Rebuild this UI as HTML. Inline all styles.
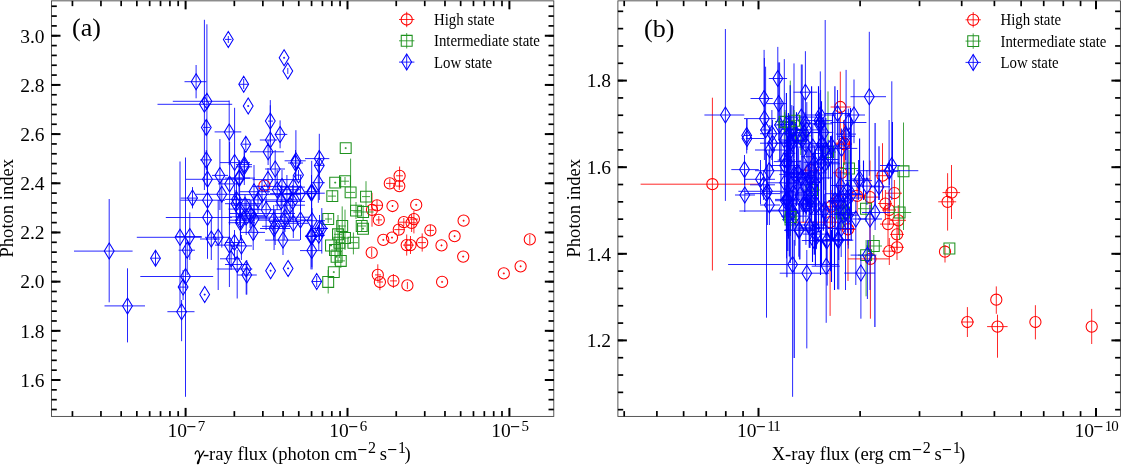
<!DOCTYPE html><html><head><meta charset="utf-8"><style>html,body{margin:0;padding:0;background:#fff;width:1123px;height:465px;overflow:hidden}svg{display:block;will-change:transform}</style></head><body><svg width="1123" height="465" viewBox="0 0 1123 465" font-family="Liberation Serif, serif" fill="#000">
<rect width="1123" height="465" fill="#fff"/>
<g>
<path d="M396.0 175.8H403.0M399.6 166.5V187.6M386.0 183.4H394.0M389.8 178.8V187.6M396.0 186.1H403.0M399.3 182.0V190.0M372.5 205.3H382.3M377.0 200.0V211.0M368.0 209.9H376.0M372.0 192.8V226.7M391.5 206.0H393.5M392.5 205.0V207.0M415.2 204.9H417.2M416.2 203.9V205.9M376.0 219.9H382.0M378.8 216.0V224.0M399.0 222.2H408.0M403.8 218.0V226.0M410.0 219.1H418.0M413.9 210.8V233.4M408.0 222.8H416.0M411.6 214.0V232.0M394.3 229.6H404.1M398.8 224.0V235.0M427.0 230.4H434.0M430.4 225.0V235.6M391.0 237.6H393.0M392.0 236.6V238.6M382.3 239.9H384.3M383.3 238.9V240.9M403.0 245.1H410.0M406.7 234.5V255.6M407.0 245.1H414.0M410.5 236.0V254.0M418.0 242.6H426.0M422.2 233.4V251.6M440.5 245.4H442.5M441.5 244.4V246.4M462.6 220.7H464.6M463.6 219.7V221.7M453.6 236.2H455.6M454.6 235.2V237.2M462.2 256.6H464.2M463.2 255.6V257.6M441.1 281.9H443.1M442.1 280.9V282.9M529.8 235.0V244.0M519.6 266.3H521.6M520.6 265.3V267.3M502.8 273.4H504.8M503.8 272.4V274.4M371.7 248.0V257.0M375.0 274.9H381.0M377.8 264.3V280.0M377.0 282.0H383.0M379.9 276.0V290.2M390.0 280.9H397.0M393.4 274.0V288.0M407.4 282.0V289.0M263.4 185.7H265.4M264.4 184.7V186.7" stroke="#ff0000" stroke-width="0.85" fill="none"/>
<path d="M394.00 175.80a5.6 5.6 0 1 0 11.2 0a5.6 5.6 0 1 0 -11.2 0ZM384.20 183.40a5.6 5.6 0 1 0 11.2 0a5.6 5.6 0 1 0 -11.2 0ZM393.70 186.10a5.6 5.6 0 1 0 11.2 0a5.6 5.6 0 1 0 -11.2 0ZM371.40 205.30a5.6 5.6 0 1 0 11.2 0a5.6 5.6 0 1 0 -11.2 0ZM366.40 209.90a5.6 5.6 0 1 0 11.2 0a5.6 5.6 0 1 0 -11.2 0ZM386.90 206.00a5.6 5.6 0 1 0 11.2 0a5.6 5.6 0 1 0 -11.2 0ZM410.60 204.90a5.6 5.6 0 1 0 11.2 0a5.6 5.6 0 1 0 -11.2 0ZM373.20 219.90a5.6 5.6 0 1 0 11.2 0a5.6 5.6 0 1 0 -11.2 0ZM398.20 222.20a5.6 5.6 0 1 0 11.2 0a5.6 5.6 0 1 0 -11.2 0ZM408.30 219.10a5.6 5.6 0 1 0 11.2 0a5.6 5.6 0 1 0 -11.2 0ZM406.00 222.80a5.6 5.6 0 1 0 11.2 0a5.6 5.6 0 1 0 -11.2 0ZM393.20 229.60a5.6 5.6 0 1 0 11.2 0a5.6 5.6 0 1 0 -11.2 0ZM424.80 230.40a5.6 5.6 0 1 0 11.2 0a5.6 5.6 0 1 0 -11.2 0ZM386.40 237.60a5.6 5.6 0 1 0 11.2 0a5.6 5.6 0 1 0 -11.2 0ZM377.70 239.90a5.6 5.6 0 1 0 11.2 0a5.6 5.6 0 1 0 -11.2 0ZM401.10 245.10a5.6 5.6 0 1 0 11.2 0a5.6 5.6 0 1 0 -11.2 0ZM404.90 245.10a5.6 5.6 0 1 0 11.2 0a5.6 5.6 0 1 0 -11.2 0ZM416.60 242.60a5.6 5.6 0 1 0 11.2 0a5.6 5.6 0 1 0 -11.2 0ZM435.90 245.40a5.6 5.6 0 1 0 11.2 0a5.6 5.6 0 1 0 -11.2 0ZM458.00 220.70a5.6 5.6 0 1 0 11.2 0a5.6 5.6 0 1 0 -11.2 0ZM449.00 236.20a5.6 5.6 0 1 0 11.2 0a5.6 5.6 0 1 0 -11.2 0ZM457.60 256.60a5.6 5.6 0 1 0 11.2 0a5.6 5.6 0 1 0 -11.2 0ZM436.50 281.90a5.6 5.6 0 1 0 11.2 0a5.6 5.6 0 1 0 -11.2 0ZM524.20 239.40a5.6 5.6 0 1 0 11.2 0a5.6 5.6 0 1 0 -11.2 0ZM515.00 266.30a5.6 5.6 0 1 0 11.2 0a5.6 5.6 0 1 0 -11.2 0ZM498.20 273.40a5.6 5.6 0 1 0 11.2 0a5.6 5.6 0 1 0 -11.2 0ZM366.10 252.60a5.6 5.6 0 1 0 11.2 0a5.6 5.6 0 1 0 -11.2 0ZM372.20 274.90a5.6 5.6 0 1 0 11.2 0a5.6 5.6 0 1 0 -11.2 0ZM374.30 282.00a5.6 5.6 0 1 0 11.2 0a5.6 5.6 0 1 0 -11.2 0ZM387.80 280.90a5.6 5.6 0 1 0 11.2 0a5.6 5.6 0 1 0 -11.2 0ZM401.80 285.40a5.6 5.6 0 1 0 11.2 0a5.6 5.6 0 1 0 -11.2 0ZM258.80 185.70a5.6 5.6 0 1 0 11.2 0a5.6 5.6 0 1 0 -11.2 0Z" stroke="#ff0000" stroke-width="1.05" fill="none"/>
<path d="M344.7 148.1H346.7M345.7 147.1V149.1M334.2 182.6H336.2M335.2 181.6V183.6M341.0 181.2H349.0M345.0 177.0V185.0M346.0 192.4H355.0M350.6 158.6V205.0M328.0 196.1H336.0M332.3 190.0V202.0M362.0 196.6H370.0M366.0 181.2V206.4M350.0 210.6H362.0M356.0 202.0V219.0M353.4 212.0H373.7M363.1 205.0V220.0M358.0 226.0H366.0M361.7 220.0V232.0M362.0 228.7H364.0M363.0 227.7V229.7M325.0 219.0H332.0M328.2 214.0V223.0M338.0 226.0H346.0M342.2 206.4V251.0M334.0 234.3H342.0M338.0 215.0V262.0M330.0 245.5H332.0M331.0 244.5V246.5M335.0 242.7H344.0M339.4 225.0V258.0M349.0 242.7H358.0M353.4 232.5V254.4M335.6 256.7H337.6M336.6 255.7V257.7M336.0 260.9H345.0M340.8 250.0V268.0M332.8 272.1H334.8M333.8 271.1V273.1M328.2 270.0V293.5M341.0 238.0H349.0M345.0 209.6V250.0M331.0 250.0H339.0M335.0 230.0V265.0" stroke="#1f921f" stroke-width="0.85" fill="none"/>
<path d="M340.25 142.65h10.9v10.9h-10.9ZM329.75 177.15h10.9v10.9h-10.9ZM339.55 175.75h10.9v10.9h-10.9ZM345.15 186.95h10.9v10.9h-10.9ZM326.85 190.65h10.9v10.9h-10.9ZM360.55 191.15h10.9v10.9h-10.9ZM350.55 205.15h10.9v10.9h-10.9ZM357.65 206.55h10.9v10.9h-10.9ZM356.25 220.55h10.9v10.9h-10.9ZM357.55 223.25h10.9v10.9h-10.9ZM322.75 213.55h10.9v10.9h-10.9ZM336.75 220.55h10.9v10.9h-10.9ZM332.55 228.85h10.9v10.9h-10.9ZM325.55 240.05h10.9v10.9h-10.9ZM333.95 237.25h10.9v10.9h-10.9ZM347.95 237.25h10.9v10.9h-10.9ZM331.15 251.25h10.9v10.9h-10.9ZM335.35 255.45h10.9v10.9h-10.9ZM328.35 266.65h10.9v10.9h-10.9ZM322.75 276.45h10.9v10.9h-10.9ZM339.55 232.55h10.9v10.9h-10.9ZM329.55 244.55h10.9v10.9h-10.9Z" stroke="#1f921f" stroke-width="1.05" fill="none"/>
<path d="M74.0 251.1H132.6M109.2 199.0V302.3M104.5 305.9H145.0M127.5 268.3V342.4M151.0 258.2H160.0M155.5 251.0V265.0M225.0 39.4H231.5M228.3 36.0V43.0M283.1 57.8H285.1M284.1 56.8V58.8M287.8 68.0V74.0M184.5 81.7H206.4M196.1 65.0V98.3M239.0 84.3H248.5M243.7 79.0V89.0M247.2 106.0H249.2M248.2 105.0V107.0M157.5 104.3H232.2M204.4 19.8V190.0M172.8 101.3H229.2M206.9 24.3V185.0M203.0 127.4H210.0M206.3 120.0V135.0M214.6 131.9H241.3M229.2 100.5V165.0M242.0 144.2H250.0M245.8 138.0V150.0M268.0 121.1H273.0M270.3 100.1V142.0M274.8 134.4H287.3M280.1 120.4V148.3M259.8 140.0H277.1M270.3 105.3V170.0M250.0 151.8H283.9M268.1 140.0V165.0M284.6 160.8H305.7M295.9 130.2V182.6M305.0 158.6H329.3M319.3 133.8V175.0M314.0 165.4H324.0M319.3 150.0V200.0M295.0 175.1H302.0M298.5 170.0V180.0M311.0 182.7H324.8M318.3 160.9V202.8M200.0 159.9H212.0M206.3 150.0V170.0M212.0 175.4H228.0M219.9 139.0V210.0M220.0 162.6H250.0M234.6 107.8V200.0M236.0 164.6H252.0M244.3 150.0V180.0M225.0 178.1H255.0M239.6 160.0V200.0M218.0 183.9H240.0M229.6 142.0V225.0M186.0 179.3H245.0M207.5 165.0V195.0M180.7 198.1H197.7M192.5 187.1V208.4M180.3 200.2H225.0M207.5 185.0V215.0M195.8 194.3H229.4M221.8 180.0V247.6M225.0 199.4H250.0M236.5 180.0V225.0M240.0 191.7H270.0M254.0 165.0V215.0M260.0 189.7H300.0M277.2 170.0V210.0M270.0 193.6H320.0M286.9 175.0V215.0M280.0 201.4H305.0M292.7 185.0V220.0M285.0 193.6H315.0M300.5 175.0V210.0M305.0 191.7H320.0M311.7 160.8V230.0M165.8 217.5H232.0M207.5 200.0V258.8M228.5 209.1H260.0M239.6 195.0V225.0M230.0 216.9H265.0M246.2 200.0V235.0M240.0 218.8H270.0M254.0 200.0V240.0M228.5 222.7H255.0M240.4 210.0V240.0M260.0 228.5H290.0M274.1 210.0V250.0M270.0 221.5H300.0M284.2 205.0V240.0M290.0 220.0H312.0M300.5 205.0V240.0M300.0 220.7H325.0M312.1 208.1V235.0M310.0 228.5H328.0M319.5 215.0V240.0M305.0 236.2H320.0M312.1 225.0V269.4M300.0 250.6H322.0M311.8 236.0V267.2M265.0 240.1H300.0M283.0 225.0V255.0M240.0 232.4H265.0M253.2 215.0V250.0M136.8 237.3H201.8M180.0 161.5V308.0M175.0 236.5H201.6M189.8 212.4V260.0M178.6 250.2H195.0M187.2 240.0V275.0M200.0 239.0H220.0M211.3 220.0V260.0M205.0 237.3H230.0M218.2 200.0V290.0M215.0 245.1H240.0M229.4 203.8V287.0M225.0 242.5H245.0M234.5 230.0V260.0M230.0 245.9H252.0M241.4 235.0V260.0M220.0 258.8H240.0M231.1 245.0V270.0M225.0 264.5H248.0M237.2 250.0V298.5M216.8 269.0H252.3M246.2 263.6V294.6M237.2 275.0H256.8M246.8 260.0V294.6M269.6 270.7H271.6M270.6 269.7V271.7M287.1 268.4H289.1M288.1 267.4V269.4M312.0 281.5H322.0M316.7 276.0V287.0M140.3 276.5H213.2M185.5 157.5V396.8M178.0 287.1H188.0M183.1 270.0V300.0M167.4 311.7H194.5M181.6 300.0V341.2M203.7 294.6H205.7M204.7 293.6V295.6M290.0 193.2H324.8M311.5 175.0V215.0M315.0 228.4H328.0M321.8 208.1V253.6M312.0 235.2H325.0M318.8 225.0V250.0M305.0 236.3H318.0M311.0 225.0V269.4M236.0 166.8H252.0M244.3 150.0V185.0M228.0 178.1H250.0M239.0 165.0V195.0M265.0 169.0H285.0M275.2 150.0V190.0M252.6 186.4H300.0M282.0 170.0V205.0M280.0 187.1H305.0M293.3 175.0V200.0M288.0 163.0H303.0M295.5 150.0V180.0M225.0 203.7H260.0M236.0 190.0V218.0M232.0 205.2H258.0M245.0 194.6V225.0M238.0 215.7H265.0M251.0 200.0V232.0M230.0 220.2H255.0M240.5 205.0V240.0M250.0 209.7H282.0M266.1 196.9V230.0M258.0 220.2H290.0M273.7 205.0V240.0M265.0 201.4H296.0M281.2 185.0V217.2M275.0 205.2H305.0M290.2 190.0V222.0M280.0 223.3H308.0M293.3 208.0V238.0M262.0 226.3H290.0M275.2 210.0V245.0M232.0 199.9H300.0M258.0 185.0V213.5M230.0 194.6H300.0M262.0 180.0V208.0M230.0 213.5H295.0M250.0 200.0V228.0M250.0 217.2H310.0M285.0 205.0V232.0M252.6 179.6H300.0M268.0 168.0V195.0" stroke="#0000ff" stroke-width="0.85" fill="none"/>
<path d="M109.20 243.10L114.10 251.10L109.20 259.10L104.30 251.10ZM127.50 297.90L132.40 305.90L127.50 313.90L122.60 305.90ZM155.50 250.20L160.40 258.20L155.50 266.20L150.60 258.20ZM228.30 31.40L233.20 39.40L228.30 47.40L223.40 39.40ZM284.10 49.80L289.00 57.80L284.10 65.80L279.20 57.80ZM287.80 63.10L292.70 71.10L287.80 79.10L282.90 71.10ZM196.10 73.70L201.00 81.70L196.10 89.70L191.20 81.70ZM243.70 76.30L248.60 84.30L243.70 92.30L238.80 84.30ZM248.20 98.00L253.10 106.00L248.20 114.00L243.30 106.00ZM204.40 96.30L209.30 104.30L204.40 112.30L199.50 104.30ZM206.90 93.30L211.80 101.30L206.90 109.30L202.00 101.30ZM206.30 119.40L211.20 127.40L206.30 135.40L201.40 127.40ZM229.20 123.90L234.10 131.90L229.20 139.90L224.30 131.90ZM245.80 136.20L250.70 144.20L245.80 152.20L240.90 144.20ZM270.30 113.10L275.20 121.10L270.30 129.10L265.40 121.10ZM280.10 126.40L285.00 134.40L280.10 142.40L275.20 134.40ZM270.30 132.00L275.20 140.00L270.30 148.00L265.40 140.00ZM268.10 143.80L273.00 151.80L268.10 159.80L263.20 151.80ZM295.90 152.80L300.80 160.80L295.90 168.80L291.00 160.80ZM319.30 150.60L324.20 158.60L319.30 166.60L314.40 158.60ZM319.30 157.40L324.20 165.40L319.30 173.40L314.40 165.40ZM298.50 167.10L303.40 175.10L298.50 183.10L293.60 175.10ZM318.30 174.70L323.20 182.70L318.30 190.70L313.40 182.70ZM206.30 151.90L211.20 159.90L206.30 167.90L201.40 159.90ZM219.90 167.40L224.80 175.40L219.90 183.40L215.00 175.40ZM234.60 154.60L239.50 162.60L234.60 170.60L229.70 162.60ZM244.30 156.60L249.20 164.60L244.30 172.60L239.40 164.60ZM239.60 170.10L244.50 178.10L239.60 186.10L234.70 178.10ZM229.60 175.90L234.50 183.90L229.60 191.90L224.70 183.90ZM207.50 171.30L212.40 179.30L207.50 187.30L202.60 179.30ZM192.50 190.10L197.40 198.10L192.50 206.10L187.60 198.10ZM207.50 192.20L212.40 200.20L207.50 208.20L202.60 200.20ZM221.80 186.30L226.70 194.30L221.80 202.30L216.90 194.30ZM236.50 191.40L241.40 199.40L236.50 207.40L231.60 199.40ZM254.00 183.70L258.90 191.70L254.00 199.70L249.10 191.70ZM277.20 181.70L282.10 189.70L277.20 197.70L272.30 189.70ZM286.90 185.60L291.80 193.60L286.90 201.60L282.00 193.60ZM292.70 193.40L297.60 201.40L292.70 209.40L287.80 201.40ZM300.50 185.60L305.40 193.60L300.50 201.60L295.60 193.60ZM311.70 183.70L316.60 191.70L311.70 199.70L306.80 191.70ZM207.50 209.50L212.40 217.50L207.50 225.50L202.60 217.50ZM239.60 201.10L244.50 209.10L239.60 217.10L234.70 209.10ZM246.20 208.90L251.10 216.90L246.20 224.90L241.30 216.90ZM254.00 210.80L258.90 218.80L254.00 226.80L249.10 218.80ZM240.40 214.70L245.30 222.70L240.40 230.70L235.50 222.70ZM274.10 220.50L279.00 228.50L274.10 236.50L269.20 228.50ZM284.20 213.50L289.10 221.50L284.20 229.50L279.30 221.50ZM300.50 212.00L305.40 220.00L300.50 228.00L295.60 220.00ZM312.10 212.70L317.00 220.70L312.10 228.70L307.20 220.70ZM319.50 220.50L324.40 228.50L319.50 236.50L314.60 228.50ZM312.10 228.20L317.00 236.20L312.10 244.20L307.20 236.20ZM311.80 242.60L316.70 250.60L311.80 258.60L306.90 250.60ZM283.00 232.10L287.90 240.10L283.00 248.10L278.10 240.10ZM253.20 224.40L258.10 232.40L253.20 240.40L248.30 232.40ZM180.00 229.30L184.90 237.30L180.00 245.30L175.10 237.30ZM189.80 228.50L194.70 236.50L189.80 244.50L184.90 236.50ZM187.20 242.20L192.10 250.20L187.20 258.20L182.30 250.20ZM211.30 231.00L216.20 239.00L211.30 247.00L206.40 239.00ZM218.20 229.30L223.10 237.30L218.20 245.30L213.30 237.30ZM229.40 237.10L234.30 245.10L229.40 253.10L224.50 245.10ZM234.50 234.50L239.40 242.50L234.50 250.50L229.60 242.50ZM241.40 237.90L246.30 245.90L241.40 253.90L236.50 245.90ZM231.10 250.80L236.00 258.80L231.10 266.80L226.20 258.80ZM237.20 256.50L242.10 264.50L237.20 272.50L232.30 264.50ZM246.20 261.00L251.10 269.00L246.20 277.00L241.30 269.00ZM246.80 267.00L251.70 275.00L246.80 283.00L241.90 275.00ZM270.60 262.70L275.50 270.70L270.60 278.70L265.70 270.70ZM288.10 260.40L293.00 268.40L288.10 276.40L283.20 268.40ZM316.70 273.50L321.60 281.50L316.70 289.50L311.80 281.50ZM185.50 268.50L190.40 276.50L185.50 284.50L180.60 276.50ZM183.10 279.10L188.00 287.10L183.10 295.10L178.20 287.10ZM181.60 303.70L186.50 311.70L181.60 319.70L176.70 311.70ZM204.70 286.60L209.60 294.60L204.70 302.60L199.80 294.60ZM311.50 185.20L316.40 193.20L311.50 201.20L306.60 193.20ZM321.80 220.40L326.70 228.40L321.80 236.40L316.90 228.40ZM318.80 227.20L323.70 235.20L318.80 243.20L313.90 235.20ZM311.00 228.30L315.90 236.30L311.00 244.30L306.10 236.30ZM244.30 158.80L249.20 166.80L244.30 174.80L239.40 166.80ZM239.00 170.10L243.90 178.10L239.00 186.10L234.10 178.10ZM275.20 161.00L280.10 169.00L275.20 177.00L270.30 169.00ZM282.00 178.40L286.90 186.40L282.00 194.40L277.10 186.40ZM293.30 179.10L298.20 187.10L293.30 195.10L288.40 187.10ZM295.50 155.00L300.40 163.00L295.50 171.00L290.60 163.00ZM236.00 195.70L240.90 203.70L236.00 211.70L231.10 203.70ZM245.00 197.20L249.90 205.20L245.00 213.20L240.10 205.20ZM251.00 207.70L255.90 215.70L251.00 223.70L246.10 215.70ZM240.50 212.20L245.40 220.20L240.50 228.20L235.60 220.20ZM266.10 201.70L271.00 209.70L266.10 217.70L261.20 209.70ZM273.70 212.20L278.60 220.20L273.70 228.20L268.80 220.20ZM281.20 193.40L286.10 201.40L281.20 209.40L276.30 201.40ZM290.20 197.20L295.10 205.20L290.20 213.20L285.30 205.20ZM293.30 215.30L298.20 223.30L293.30 231.30L288.40 223.30ZM275.20 218.30L280.10 226.30L275.20 234.30L270.30 226.30ZM258.00 191.90L262.90 199.90L258.00 207.90L253.10 199.90ZM262.00 186.60L266.90 194.60L262.00 202.60L257.10 194.60ZM250.00 205.50L254.90 213.50L250.00 221.50L245.10 213.50ZM285.00 209.20L289.90 217.20L285.00 225.20L280.10 217.20ZM268.00 171.60L272.90 179.60L268.00 187.60L263.10 179.60Z" stroke="#0000ff" stroke-width="1.05" fill="none"/>
</g>
<rect x="51.5" y="0.85" width="502.30" height="415.55" fill="none" stroke="#3a3a3a" stroke-width="0.85"/>
<line x1="51.5" y1="380.00" x2="60.5" y2="380.00" stroke="#000" stroke-width="2"/>
<line x1="553.8" y1="380.00" x2="544.8" y2="380.00" stroke="#000" stroke-width="2"/>
<line x1="51.5" y1="330.82" x2="60.5" y2="330.82" stroke="#000" stroke-width="2"/>
<line x1="553.8" y1="330.82" x2="544.8" y2="330.82" stroke="#000" stroke-width="2"/>
<line x1="51.5" y1="281.64" x2="60.5" y2="281.64" stroke="#000" stroke-width="2"/>
<line x1="553.8" y1="281.64" x2="544.8" y2="281.64" stroke="#000" stroke-width="2"/>
<line x1="51.5" y1="232.46" x2="60.5" y2="232.46" stroke="#000" stroke-width="2"/>
<line x1="553.8" y1="232.46" x2="544.8" y2="232.46" stroke="#000" stroke-width="2"/>
<line x1="51.5" y1="183.28" x2="60.5" y2="183.28" stroke="#000" stroke-width="2"/>
<line x1="553.8" y1="183.28" x2="544.8" y2="183.28" stroke="#000" stroke-width="2"/>
<line x1="51.5" y1="134.10" x2="60.5" y2="134.10" stroke="#000" stroke-width="2"/>
<line x1="553.8" y1="134.10" x2="544.8" y2="134.10" stroke="#000" stroke-width="2"/>
<line x1="51.5" y1="84.92" x2="60.5" y2="84.92" stroke="#000" stroke-width="2"/>
<line x1="553.8" y1="84.92" x2="544.8" y2="84.92" stroke="#000" stroke-width="2"/>
<line x1="51.5" y1="35.74" x2="60.5" y2="35.74" stroke="#000" stroke-width="2"/>
<line x1="553.8" y1="35.74" x2="544.8" y2="35.74" stroke="#000" stroke-width="2"/>
<line x1="51.5" y1="409.51" x2="56.8" y2="409.51" stroke="#000" stroke-width="1.7"/>
<line x1="553.8" y1="409.51" x2="548.5" y2="409.51" stroke="#000" stroke-width="1.7"/>
<line x1="51.5" y1="399.67" x2="56.8" y2="399.67" stroke="#000" stroke-width="1.7"/>
<line x1="553.8" y1="399.67" x2="548.5" y2="399.67" stroke="#000" stroke-width="1.7"/>
<line x1="51.5" y1="389.84" x2="56.8" y2="389.84" stroke="#000" stroke-width="1.7"/>
<line x1="553.8" y1="389.84" x2="548.5" y2="389.84" stroke="#000" stroke-width="1.7"/>
<line x1="51.5" y1="380.00" x2="56.8" y2="380.00" stroke="#000" stroke-width="1.7"/>
<line x1="553.8" y1="380.00" x2="548.5" y2="380.00" stroke="#000" stroke-width="1.7"/>
<line x1="51.5" y1="370.16" x2="56.8" y2="370.16" stroke="#000" stroke-width="1.7"/>
<line x1="553.8" y1="370.16" x2="548.5" y2="370.16" stroke="#000" stroke-width="1.7"/>
<line x1="51.5" y1="360.33" x2="56.8" y2="360.33" stroke="#000" stroke-width="1.7"/>
<line x1="553.8" y1="360.33" x2="548.5" y2="360.33" stroke="#000" stroke-width="1.7"/>
<line x1="51.5" y1="350.49" x2="56.8" y2="350.49" stroke="#000" stroke-width="1.7"/>
<line x1="553.8" y1="350.49" x2="548.5" y2="350.49" stroke="#000" stroke-width="1.7"/>
<line x1="51.5" y1="340.66" x2="56.8" y2="340.66" stroke="#000" stroke-width="1.7"/>
<line x1="553.8" y1="340.66" x2="548.5" y2="340.66" stroke="#000" stroke-width="1.7"/>
<line x1="51.5" y1="330.82" x2="56.8" y2="330.82" stroke="#000" stroke-width="1.7"/>
<line x1="553.8" y1="330.82" x2="548.5" y2="330.82" stroke="#000" stroke-width="1.7"/>
<line x1="51.5" y1="320.98" x2="56.8" y2="320.98" stroke="#000" stroke-width="1.7"/>
<line x1="553.8" y1="320.98" x2="548.5" y2="320.98" stroke="#000" stroke-width="1.7"/>
<line x1="51.5" y1="311.15" x2="56.8" y2="311.15" stroke="#000" stroke-width="1.7"/>
<line x1="553.8" y1="311.15" x2="548.5" y2="311.15" stroke="#000" stroke-width="1.7"/>
<line x1="51.5" y1="301.31" x2="56.8" y2="301.31" stroke="#000" stroke-width="1.7"/>
<line x1="553.8" y1="301.31" x2="548.5" y2="301.31" stroke="#000" stroke-width="1.7"/>
<line x1="51.5" y1="291.48" x2="56.8" y2="291.48" stroke="#000" stroke-width="1.7"/>
<line x1="553.8" y1="291.48" x2="548.5" y2="291.48" stroke="#000" stroke-width="1.7"/>
<line x1="51.5" y1="281.64" x2="56.8" y2="281.64" stroke="#000" stroke-width="1.7"/>
<line x1="553.8" y1="281.64" x2="548.5" y2="281.64" stroke="#000" stroke-width="1.7"/>
<line x1="51.5" y1="271.80" x2="56.8" y2="271.80" stroke="#000" stroke-width="1.7"/>
<line x1="553.8" y1="271.80" x2="548.5" y2="271.80" stroke="#000" stroke-width="1.7"/>
<line x1="51.5" y1="261.97" x2="56.8" y2="261.97" stroke="#000" stroke-width="1.7"/>
<line x1="553.8" y1="261.97" x2="548.5" y2="261.97" stroke="#000" stroke-width="1.7"/>
<line x1="51.5" y1="252.13" x2="56.8" y2="252.13" stroke="#000" stroke-width="1.7"/>
<line x1="553.8" y1="252.13" x2="548.5" y2="252.13" stroke="#000" stroke-width="1.7"/>
<line x1="51.5" y1="242.30" x2="56.8" y2="242.30" stroke="#000" stroke-width="1.7"/>
<line x1="553.8" y1="242.30" x2="548.5" y2="242.30" stroke="#000" stroke-width="1.7"/>
<line x1="51.5" y1="232.46" x2="56.8" y2="232.46" stroke="#000" stroke-width="1.7"/>
<line x1="553.8" y1="232.46" x2="548.5" y2="232.46" stroke="#000" stroke-width="1.7"/>
<line x1="51.5" y1="222.62" x2="56.8" y2="222.62" stroke="#000" stroke-width="1.7"/>
<line x1="553.8" y1="222.62" x2="548.5" y2="222.62" stroke="#000" stroke-width="1.7"/>
<line x1="51.5" y1="212.79" x2="56.8" y2="212.79" stroke="#000" stroke-width="1.7"/>
<line x1="553.8" y1="212.79" x2="548.5" y2="212.79" stroke="#000" stroke-width="1.7"/>
<line x1="51.5" y1="202.95" x2="56.8" y2="202.95" stroke="#000" stroke-width="1.7"/>
<line x1="553.8" y1="202.95" x2="548.5" y2="202.95" stroke="#000" stroke-width="1.7"/>
<line x1="51.5" y1="193.12" x2="56.8" y2="193.12" stroke="#000" stroke-width="1.7"/>
<line x1="553.8" y1="193.12" x2="548.5" y2="193.12" stroke="#000" stroke-width="1.7"/>
<line x1="51.5" y1="183.28" x2="56.8" y2="183.28" stroke="#000" stroke-width="1.7"/>
<line x1="553.8" y1="183.28" x2="548.5" y2="183.28" stroke="#000" stroke-width="1.7"/>
<line x1="51.5" y1="173.44" x2="56.8" y2="173.44" stroke="#000" stroke-width="1.7"/>
<line x1="553.8" y1="173.44" x2="548.5" y2="173.44" stroke="#000" stroke-width="1.7"/>
<line x1="51.5" y1="163.61" x2="56.8" y2="163.61" stroke="#000" stroke-width="1.7"/>
<line x1="553.8" y1="163.61" x2="548.5" y2="163.61" stroke="#000" stroke-width="1.7"/>
<line x1="51.5" y1="153.77" x2="56.8" y2="153.77" stroke="#000" stroke-width="1.7"/>
<line x1="553.8" y1="153.77" x2="548.5" y2="153.77" stroke="#000" stroke-width="1.7"/>
<line x1="51.5" y1="143.94" x2="56.8" y2="143.94" stroke="#000" stroke-width="1.7"/>
<line x1="553.8" y1="143.94" x2="548.5" y2="143.94" stroke="#000" stroke-width="1.7"/>
<line x1="51.5" y1="134.10" x2="56.8" y2="134.10" stroke="#000" stroke-width="1.7"/>
<line x1="553.8" y1="134.10" x2="548.5" y2="134.10" stroke="#000" stroke-width="1.7"/>
<line x1="51.5" y1="124.26" x2="56.8" y2="124.26" stroke="#000" stroke-width="1.7"/>
<line x1="553.8" y1="124.26" x2="548.5" y2="124.26" stroke="#000" stroke-width="1.7"/>
<line x1="51.5" y1="114.43" x2="56.8" y2="114.43" stroke="#000" stroke-width="1.7"/>
<line x1="553.8" y1="114.43" x2="548.5" y2="114.43" stroke="#000" stroke-width="1.7"/>
<line x1="51.5" y1="104.59" x2="56.8" y2="104.59" stroke="#000" stroke-width="1.7"/>
<line x1="553.8" y1="104.59" x2="548.5" y2="104.59" stroke="#000" stroke-width="1.7"/>
<line x1="51.5" y1="94.76" x2="56.8" y2="94.76" stroke="#000" stroke-width="1.7"/>
<line x1="553.8" y1="94.76" x2="548.5" y2="94.76" stroke="#000" stroke-width="1.7"/>
<line x1="51.5" y1="84.92" x2="56.8" y2="84.92" stroke="#000" stroke-width="1.7"/>
<line x1="553.8" y1="84.92" x2="548.5" y2="84.92" stroke="#000" stroke-width="1.7"/>
<line x1="51.5" y1="75.08" x2="56.8" y2="75.08" stroke="#000" stroke-width="1.7"/>
<line x1="553.8" y1="75.08" x2="548.5" y2="75.08" stroke="#000" stroke-width="1.7"/>
<line x1="51.5" y1="65.25" x2="56.8" y2="65.25" stroke="#000" stroke-width="1.7"/>
<line x1="553.8" y1="65.25" x2="548.5" y2="65.25" stroke="#000" stroke-width="1.7"/>
<line x1="51.5" y1="55.41" x2="56.8" y2="55.41" stroke="#000" stroke-width="1.7"/>
<line x1="553.8" y1="55.41" x2="548.5" y2="55.41" stroke="#000" stroke-width="1.7"/>
<line x1="51.5" y1="45.58" x2="56.8" y2="45.58" stroke="#000" stroke-width="1.7"/>
<line x1="553.8" y1="45.58" x2="548.5" y2="45.58" stroke="#000" stroke-width="1.7"/>
<line x1="51.5" y1="35.74" x2="56.8" y2="35.74" stroke="#000" stroke-width="1.7"/>
<line x1="553.8" y1="35.74" x2="548.5" y2="35.74" stroke="#000" stroke-width="1.7"/>
<line x1="51.5" y1="25.90" x2="56.8" y2="25.90" stroke="#000" stroke-width="1.7"/>
<line x1="553.8" y1="25.90" x2="548.5" y2="25.90" stroke="#000" stroke-width="1.7"/>
<line x1="51.5" y1="16.07" x2="56.8" y2="16.07" stroke="#000" stroke-width="1.7"/>
<line x1="553.8" y1="16.07" x2="548.5" y2="16.07" stroke="#000" stroke-width="1.7"/>
<line x1="51.5" y1="6.23" x2="56.8" y2="6.23" stroke="#000" stroke-width="1.7"/>
<line x1="553.8" y1="6.23" x2="548.5" y2="6.23" stroke="#000" stroke-width="1.7"/>
<text x="44.5" y="386.80" text-anchor="end" font-size="19.5">1.6</text>
<text x="44.5" y="337.62" text-anchor="end" font-size="19.5">1.8</text>
<text x="44.5" y="288.44" text-anchor="end" font-size="19.5">2.0</text>
<text x="44.5" y="239.26" text-anchor="end" font-size="19.5">2.2</text>
<text x="44.5" y="190.08" text-anchor="end" font-size="19.5">2.4</text>
<text x="44.5" y="140.90" text-anchor="end" font-size="19.5">2.6</text>
<text x="44.5" y="91.72" text-anchor="end" font-size="19.5">2.8</text>
<text x="44.5" y="42.54" text-anchor="end" font-size="19.5">3.0</text>
<line x1="72.44" y1="416.4" x2="72.44" y2="411.09999999999997" stroke="#000" stroke-width="1.7"/>
<line x1="72.44" y1="0.85" x2="72.44" y2="6.1499999999999995" stroke="#000" stroke-width="1.7"/>
<line x1="100.95" y1="416.4" x2="100.95" y2="411.09999999999997" stroke="#000" stroke-width="1.7"/>
<line x1="100.95" y1="0.85" x2="100.95" y2="6.1499999999999995" stroke="#000" stroke-width="1.7"/>
<line x1="121.17" y1="416.4" x2="121.17" y2="411.09999999999997" stroke="#000" stroke-width="1.7"/>
<line x1="121.17" y1="0.85" x2="121.17" y2="6.1499999999999995" stroke="#000" stroke-width="1.7"/>
<line x1="136.86" y1="416.4" x2="136.86" y2="411.09999999999997" stroke="#000" stroke-width="1.7"/>
<line x1="136.86" y1="0.85" x2="136.86" y2="6.1499999999999995" stroke="#000" stroke-width="1.7"/>
<line x1="149.68" y1="416.4" x2="149.68" y2="411.09999999999997" stroke="#000" stroke-width="1.7"/>
<line x1="149.68" y1="0.85" x2="149.68" y2="6.1499999999999995" stroke="#000" stroke-width="1.7"/>
<line x1="160.52" y1="416.4" x2="160.52" y2="411.09999999999997" stroke="#000" stroke-width="1.7"/>
<line x1="160.52" y1="0.85" x2="160.52" y2="6.1499999999999995" stroke="#000" stroke-width="1.7"/>
<line x1="169.91" y1="416.4" x2="169.91" y2="411.09999999999997" stroke="#000" stroke-width="1.7"/>
<line x1="169.91" y1="0.85" x2="169.91" y2="6.1499999999999995" stroke="#000" stroke-width="1.7"/>
<line x1="178.19" y1="416.4" x2="178.19" y2="411.09999999999997" stroke="#000" stroke-width="1.7"/>
<line x1="178.19" y1="0.85" x2="178.19" y2="6.1499999999999995" stroke="#000" stroke-width="1.7"/>
<line x1="185.60" y1="416.4" x2="185.60" y2="407.9" stroke="#000" stroke-width="2"/>
<line x1="185.60" y1="0.85" x2="185.60" y2="9.35" stroke="#000" stroke-width="2"/>
<line x1="234.34" y1="416.4" x2="234.34" y2="411.09999999999997" stroke="#000" stroke-width="1.7"/>
<line x1="234.34" y1="0.85" x2="234.34" y2="6.1499999999999995" stroke="#000" stroke-width="1.7"/>
<line x1="262.85" y1="416.4" x2="262.85" y2="411.09999999999997" stroke="#000" stroke-width="1.7"/>
<line x1="262.85" y1="0.85" x2="262.85" y2="6.1499999999999995" stroke="#000" stroke-width="1.7"/>
<line x1="283.07" y1="416.4" x2="283.07" y2="411.09999999999997" stroke="#000" stroke-width="1.7"/>
<line x1="283.07" y1="0.85" x2="283.07" y2="6.1499999999999995" stroke="#000" stroke-width="1.7"/>
<line x1="298.76" y1="416.4" x2="298.76" y2="411.09999999999997" stroke="#000" stroke-width="1.7"/>
<line x1="298.76" y1="0.85" x2="298.76" y2="6.1499999999999995" stroke="#000" stroke-width="1.7"/>
<line x1="311.58" y1="416.4" x2="311.58" y2="411.09999999999997" stroke="#000" stroke-width="1.7"/>
<line x1="311.58" y1="0.85" x2="311.58" y2="6.1499999999999995" stroke="#000" stroke-width="1.7"/>
<line x1="322.42" y1="416.4" x2="322.42" y2="411.09999999999997" stroke="#000" stroke-width="1.7"/>
<line x1="322.42" y1="0.85" x2="322.42" y2="6.1499999999999995" stroke="#000" stroke-width="1.7"/>
<line x1="331.81" y1="416.4" x2="331.81" y2="411.09999999999997" stroke="#000" stroke-width="1.7"/>
<line x1="331.81" y1="0.85" x2="331.81" y2="6.1499999999999995" stroke="#000" stroke-width="1.7"/>
<line x1="340.09" y1="416.4" x2="340.09" y2="411.09999999999997" stroke="#000" stroke-width="1.7"/>
<line x1="340.09" y1="0.85" x2="340.09" y2="6.1499999999999995" stroke="#000" stroke-width="1.7"/>
<line x1="347.50" y1="416.4" x2="347.50" y2="407.9" stroke="#000" stroke-width="2"/>
<line x1="347.50" y1="0.85" x2="347.50" y2="9.35" stroke="#000" stroke-width="2"/>
<line x1="396.24" y1="416.4" x2="396.24" y2="411.09999999999997" stroke="#000" stroke-width="1.7"/>
<line x1="396.24" y1="0.85" x2="396.24" y2="6.1499999999999995" stroke="#000" stroke-width="1.7"/>
<line x1="424.75" y1="416.4" x2="424.75" y2="411.09999999999997" stroke="#000" stroke-width="1.7"/>
<line x1="424.75" y1="0.85" x2="424.75" y2="6.1499999999999995" stroke="#000" stroke-width="1.7"/>
<line x1="444.97" y1="416.4" x2="444.97" y2="411.09999999999997" stroke="#000" stroke-width="1.7"/>
<line x1="444.97" y1="0.85" x2="444.97" y2="6.1499999999999995" stroke="#000" stroke-width="1.7"/>
<line x1="460.66" y1="416.4" x2="460.66" y2="411.09999999999997" stroke="#000" stroke-width="1.7"/>
<line x1="460.66" y1="0.85" x2="460.66" y2="6.1499999999999995" stroke="#000" stroke-width="1.7"/>
<line x1="473.48" y1="416.4" x2="473.48" y2="411.09999999999997" stroke="#000" stroke-width="1.7"/>
<line x1="473.48" y1="0.85" x2="473.48" y2="6.1499999999999995" stroke="#000" stroke-width="1.7"/>
<line x1="484.32" y1="416.4" x2="484.32" y2="411.09999999999997" stroke="#000" stroke-width="1.7"/>
<line x1="484.32" y1="0.85" x2="484.32" y2="6.1499999999999995" stroke="#000" stroke-width="1.7"/>
<line x1="493.71" y1="416.4" x2="493.71" y2="411.09999999999997" stroke="#000" stroke-width="1.7"/>
<line x1="493.71" y1="0.85" x2="493.71" y2="6.1499999999999995" stroke="#000" stroke-width="1.7"/>
<line x1="501.99" y1="416.4" x2="501.99" y2="411.09999999999997" stroke="#000" stroke-width="1.7"/>
<line x1="501.99" y1="0.85" x2="501.99" y2="6.1499999999999995" stroke="#000" stroke-width="1.7"/>
<line x1="509.40" y1="416.4" x2="509.40" y2="407.9" stroke="#000" stroke-width="2"/>
<line x1="509.40" y1="0.85" x2="509.40" y2="9.35" stroke="#000" stroke-width="2"/>
<text x="167.40" y="437" font-size="19.5">10</text>
<rect x="187.20" y="426.10" width="8.2" height="1.1" fill="#000"/>
<text x="197.80" y="430.50" font-size="15" letter-spacing="-1">7</text>
<text x="329.30" y="437" font-size="19.5">10</text>
<rect x="349.10" y="426.10" width="8.2" height="1.1" fill="#000"/>
<text x="359.70" y="430.50" font-size="15" letter-spacing="-1">6</text>
<text x="491.20" y="437" font-size="19.5">10</text>
<rect x="511.00" y="426.10" width="8.2" height="1.1" fill="#000"/>
<text x="521.60" y="430.50" font-size="15" letter-spacing="-1">5</text>
<text x="72" y="36" font-size="26">(a)</text>
<g transform="translate(192,445)" fill="none" stroke="#000" stroke-linecap="round"><path d="M3.2 8.9C3.5 6.6 4.8 5.6 5.9 5.8C7.2 6.1 7.6 8.8 7.8 12.6" stroke-width="1.25"/><path d="M11.9 6.1L7.7 13.2C6.6 15.2 5.7 16.6 5.5 18.0C5.4 18.9 6.3 18.9 6.6 17.8C7.0 16.2 7.4 14.6 7.8 12.6" stroke-width="1.35"/></g>
<text x="202.9" y="460" font-size="18.6">-ray flux (photon cm</text>
<rect x="358.20" y="449.00" width="8.2" height="1.1" fill="#000"/>
<text x="368.10" y="452.80" font-size="16">2</text>
<text x="379.70" y="460.00" font-size="18.6">s</text>
<rect x="388.10" y="449.00" width="8.2" height="1.1" fill="#000"/>
<text x="398.10" y="452.80" font-size="16">1</text>
<text x="404.40" y="460.00" font-size="18.6">)</text>
<text transform="translate(13.3,208.2) rotate(-90)" text-anchor="middle" font-size="18.6">Photon index</text>
<g>
<path d="M640.6 184.2H758.7M712.4 97.7V270.5M942.5 192.6H960.1M951.5 165.0V219.0M938.2 201.8H956.2M947.6 173.2V230.6M945.0 245.0V262.5M961.0 322.0H974.0M967.4 307.1V337.0M996.3 286.4V313.8M987.1 326.6H1007.6M997.5 314.7V357.7M1035.4 305.2V339.4M1091.7 308.9V344.0M830.6 107.0H850.6M840.3 71.6V135.0M835.0 143.2H852.0M843.7 120.0V165.0M875.0 175.7H890.0M882.5 143.2V200.0M886.0 193.2H902.0M894.4 180.0V210.0M860.0 197.1H880.0M870.0 160.5V265.0M848.0 195.8H866.0M857.1 180.0V215.0M878.0 203.5H892.0M885.4 190.0V220.0M882.0 210.0H896.0M889.3 195.0V225.0M880.0 224.1H896.0M888.0 205.0V245.0M890.0 220.3H906.0M898.3 205.0V235.0M890.0 234.4H904.0M897.0 222.0V250.0M890.0 247.3H904.0M897.0 236.0V260.0M882.0 251.2H896.0M889.3 238.0V265.0M842.0 229.3H855.0M848.0 215.0V281.0M848.0 258.9H889.3M870.4 240.0V318.7M800.0 170.2H822.0M811.1 150.0V190.0M832.0 172.8H850.0M841.3 155.0V190.0M836.0 144.4H852.0M844.7 125.0V165.0M822.0 206.7H840.0M831.0 190.0V225.0M794.8 222.2H839.5M830.1 200.0V315.9M840.0 229.1H856.0M848.1 215.0V245.0M830.0 200.7H846.0M838.7 185.0V215.0" stroke="#ff0000" stroke-width="0.85" fill="none"/>
<path d="M706.80 184.20a5.6 5.6 0 1 0 11.2 0a5.6 5.6 0 1 0 -11.2 0ZM945.90 192.60a5.6 5.6 0 1 0 11.2 0a5.6 5.6 0 1 0 -11.2 0ZM942.00 201.80a5.6 5.6 0 1 0 11.2 0a5.6 5.6 0 1 0 -11.2 0ZM939.40 251.70a5.6 5.6 0 1 0 11.2 0a5.6 5.6 0 1 0 -11.2 0ZM961.80 322.00a5.6 5.6 0 1 0 11.2 0a5.6 5.6 0 1 0 -11.2 0ZM990.70 299.70a5.6 5.6 0 1 0 11.2 0a5.6 5.6 0 1 0 -11.2 0ZM991.90 326.60a5.6 5.6 0 1 0 11.2 0a5.6 5.6 0 1 0 -11.2 0ZM1029.80 322.00a5.6 5.6 0 1 0 11.2 0a5.6 5.6 0 1 0 -11.2 0ZM1086.10 326.60a5.6 5.6 0 1 0 11.2 0a5.6 5.6 0 1 0 -11.2 0ZM834.70 107.00a5.6 5.6 0 1 0 11.2 0a5.6 5.6 0 1 0 -11.2 0ZM838.10 143.20a5.6 5.6 0 1 0 11.2 0a5.6 5.6 0 1 0 -11.2 0ZM876.90 175.70a5.6 5.6 0 1 0 11.2 0a5.6 5.6 0 1 0 -11.2 0ZM888.80 193.20a5.6 5.6 0 1 0 11.2 0a5.6 5.6 0 1 0 -11.2 0ZM864.40 197.10a5.6 5.6 0 1 0 11.2 0a5.6 5.6 0 1 0 -11.2 0ZM851.50 195.80a5.6 5.6 0 1 0 11.2 0a5.6 5.6 0 1 0 -11.2 0ZM879.80 203.50a5.6 5.6 0 1 0 11.2 0a5.6 5.6 0 1 0 -11.2 0ZM883.70 210.00a5.6 5.6 0 1 0 11.2 0a5.6 5.6 0 1 0 -11.2 0ZM882.40 224.10a5.6 5.6 0 1 0 11.2 0a5.6 5.6 0 1 0 -11.2 0ZM892.70 220.30a5.6 5.6 0 1 0 11.2 0a5.6 5.6 0 1 0 -11.2 0ZM891.40 234.40a5.6 5.6 0 1 0 11.2 0a5.6 5.6 0 1 0 -11.2 0ZM891.40 247.30a5.6 5.6 0 1 0 11.2 0a5.6 5.6 0 1 0 -11.2 0ZM883.70 251.20a5.6 5.6 0 1 0 11.2 0a5.6 5.6 0 1 0 -11.2 0ZM842.40 229.30a5.6 5.6 0 1 0 11.2 0a5.6 5.6 0 1 0 -11.2 0ZM864.80 258.90a5.6 5.6 0 1 0 11.2 0a5.6 5.6 0 1 0 -11.2 0ZM805.50 170.20a5.6 5.6 0 1 0 11.2 0a5.6 5.6 0 1 0 -11.2 0ZM835.70 172.80a5.6 5.6 0 1 0 11.2 0a5.6 5.6 0 1 0 -11.2 0ZM839.10 144.40a5.6 5.6 0 1 0 11.2 0a5.6 5.6 0 1 0 -11.2 0ZM825.40 206.70a5.6 5.6 0 1 0 11.2 0a5.6 5.6 0 1 0 -11.2 0ZM824.50 222.20a5.6 5.6 0 1 0 11.2 0a5.6 5.6 0 1 0 -11.2 0ZM842.50 229.10a5.6 5.6 0 1 0 11.2 0a5.6 5.6 0 1 0 -11.2 0ZM833.10 200.70a5.6 5.6 0 1 0 11.2 0a5.6 5.6 0 1 0 -11.2 0Z" stroke="#ff0000" stroke-width="1.05" fill="none"/>
<path d="M775.0 121.6H795.0M785.0 110.0V140.0M784.0 128.0H796.0M790.3 80.6V150.0M790.0 135.8H812.0M800.8 115.0V155.0M840.0 168.5H858.0M849.0 150.0V185.0M782.0 219.6H798.0M790.5 205.0V236.0M834.0 213.6H850.0M842.1 200.0V228.0M903.5 122.5V230.0M890.0 212.5H911.2M899.6 170.0V240.0M866.0 246.0H882.0M873.8 235.0V256.0M858.0 255.1H874.0M866.1 240.0V296.3M836.0 212.5H852.0M844.2 200.0V225.0M858.0 208.7H874.0M866.0 195.0V222.0M949.4 244.0V253.0M820.0 152.0H836.0M828.0 91.4V170.0M804.0 190.0H820.0M812.0 175.0V205.0" stroke="#1f921f" stroke-width="0.85" fill="none"/>
<path d="M779.55 116.15h10.9v10.9h-10.9ZM784.85 122.55h10.9v10.9h-10.9ZM795.35 130.35h10.9v10.9h-10.9ZM843.55 163.05h10.9v10.9h-10.9ZM785.05 214.15h10.9v10.9h-10.9ZM836.65 208.15h10.9v10.9h-10.9ZM898.05 165.85h10.9v10.9h-10.9ZM894.15 207.05h10.9v10.9h-10.9ZM868.35 240.55h10.9v10.9h-10.9ZM860.65 249.65h10.9v10.9h-10.9ZM838.75 207.05h10.9v10.9h-10.9ZM860.55 203.25h10.9v10.9h-10.9ZM943.95 243.05h10.9v10.9h-10.9ZM822.55 146.55h10.9v10.9h-10.9ZM806.55 184.55h10.9v10.9h-10.9Z" stroke="#1f921f" stroke-width="1.05" fill="none"/>
<path d="M704.4 115.0H744.3M725.4 29.0V200.9M744.0 135.5H750.0M746.7 119.0V153.5M745.8 138.5H764.0M747.0 119.0V150.0M731.3 169.6H758.8M744.5 155.0V185.0M768.8 78.5H787.1M777.8 46.9V120.0M793.5 92.2H817.2M805.4 51.2V140.0M750.5 98.5H772.7M764.1 49.9V130.0M766.6 103.6H786.2M778.7 62.4V140.0M744.0 118.6H775.7M764.4 58.0V160.0M760.0 133.7H785.0M771.9 110.0V160.0M790.0 117.1H815.0M801.3 64.5V150.0M850.5 96.7H886.0M869.3 31.8V175.8M844.4 115.0H865.0M854.0 79.5V143.2M805.0 115.0H835.8M820.3 71.4V150.0M838.0 136.3H855.0M846.1 69.9V170.0M880.0 165.5H900.0M891.8 81.3V200.0M856.4 170.7H918.3M889.1 120.0V210.0M825.0 113.5H850.0M837.5 90.0V140.0M760.0 143.2H785.0M772.5 120.0V170.0M755.0 150.0H785.0M769.8 125.0V180.0M770.0 165.5H800.0M784.6 140.0V190.0M755.0 170.7H785.0M769.1 150.0V195.0M745.0 179.3H775.0M760.5 160.0V204.2M738.4 191.3H795.0M767.4 165.0V225.0M775.0 143.2H805.0M790.4 120.0V170.0M810.0 163.8H840.0M825.0 140.0V190.0M845.0 180.6H872.0M858.5 160.0V200.0M850.0 186.1H880.0M866.9 170.0V205.0M840.0 194.5H862.0M851.5 175.0V215.0M850.0 179.0H870.0M859.6 165.0V195.0M870.0 186.8H890.0M879.0 175.0V200.0M862.0 212.5H890.0M875.1 195.0V230.0M858.0 219.0H882.0M870.0 205.0V290.0M845.0 219.0H867.0M855.8 200.0V285.0M835.0 212.5H857.0M845.5 195.0V290.0M825.0 239.6H850.0M837.7 220.0V289.3M850.6 255.1H876.4M867.4 240.0V299.0M844.2 273.1H875.1M860.9 255.0V318.7M880.0 171.3H898.0M889.3 160.0V185.0M750.0 184.8H775.0M763.6 170.0V200.0M745.0 193.6H780.0M766.5 150.0V317.7M775.0 199.4H800.0M787.8 180.0V236.2M739.4 211.0H810.0M792.6 190.0V240.0M728.1 264.5H838.8M792.6 230.0V396.8M779.7 273.2H829.1M806.8 250.0V348.4M811.7 266.2H839.8M826.2 240.0V322.8M815.0 240.0H840.0M827.2 220.0V285.6M825.0 240.0H852.0M838.8 222.0V289.5M780.0 200.0H793.0M786.5 170.0V258.4M792.0 195.0H808.0M800.0 160.0V259.4M798.0 205.0H814.0M805.9 175.0V244.9M802.0 200.0H818.0M809.7 170.0V247.8M808.0 205.0H825.0M816.5 170.0V248.8M785.0 212.9H800.0M792.3 195.0V260.0M735.0 195.0H755.0M744.8 170.0V212.0M760.0 205.0H780.0M769.4 185.0V225.0M785.0 230.0H815.0M799.4 205.0V259.4M795.0 225.0H825.0M809.1 200.0V247.8M800.0 228.0H830.0M814.9 205.0V248.7M808.0 123.8H832.0M820.6 90.0V150.0M836.0 134.1H856.0M845.6 110.0V160.0M775.0 200.7H796.0M785.3 185.0V215.0M812.0 241.1H840.0M826.6 225.0V260.0M812.0 240.2H853.3M838.7 225.0V260.0M835.0 214.4H852.0M843.8 200.0V230.0M815.0 150.0H835.0M825.2 20.0V200.0M760.0 130.0H772.0M765.6 66.7V170.0M778.0 140.0H790.0M784.3 59.1V190.0M788.0 135.0H800.0M794.0 63.4V180.0M796.0 140.0H808.0M802.2 64.5V180.0M774.0 125.0H786.0M779.6 62.4V160.0M788.9 132.6H819.1M804.0 123.2V142.1M811.6 153.5H825.3M818.4 135.3V171.6M777.6 160.1H791.5M784.5 150.2V169.9M803.1 198.2H818.6M810.9 185.7V210.7M810.6 209.9H838.7M824.7 194.0V225.9M830.4 122.5H866.4M848.4 108.7V136.3M781.5 129.4H802.1M791.8 105.1V153.7M779.3 174.4H809.2M794.3 159.0V189.9M812.4 124.1H826.1M819.2 112.0V136.2M817.9 159.5H838.7M828.3 139.8V179.2M795.7 147.1H829.9M812.8 125.1V169.1M785.2 173.7H812.0M798.6 148.2V199.2M811.9 145.9H851.3M831.6 135.6V156.3M802.3 191.4H818.6M810.4 173.7V209.2M768.0 182.8H801.4M784.7 163.4V202.3M825.8 148.4H857.3M841.5 128.5V168.3M803.7 162.3H839.2M821.4 135.4V189.1M807.4 182.4H821.1M814.2 160.4V204.5M808.5 214.3H843.5M826.0 200.6V228.0M801.9 182.9H814.5M808.2 165.6V200.1M786.6 129.4H800.3M793.4 106.0V152.7M779.3 142.0H802.3M790.8 116.6V167.4M773.8 161.6H801.2M787.5 135.9V187.2M827.8 201.8H847.6M837.7 185.5V218.1M787.0 203.8H825.8M806.4 192.7V214.8M784.7 140.5H803.2M794.0 122.8V158.2M816.0 143.5H828.1M822.1 127.1V159.9M787.8 172.9H826.5M807.1 151.1V194.7M801.6 177.9H832.5M817.1 168.8V187.0M824.9 193.7H861.4M843.2 169.7V217.6M801.2 156.7H816.1M808.7 136.0V177.4M777.3 124.5H795.2M786.2 113.3V135.8M799.1 123.1H811.1M805.1 112.1V134.1M782.5 153.3H795.3M788.9 127.8V178.8M814.2 132.4H833.3M823.8 117.5V147.4M788.9 129.9H824.6M806.8 102.1V157.8M806.5 164.9H820.9M813.7 154.9V175.0M787.7 143.7H822.9M805.3 132.5V154.9M770.2 210.2H797.0M783.6 199.3V221.2M805.5 120.6H832.3M818.9 93.1V148.2M831.1 185.5H850.4M840.7 170.2V200.9M779.9 192.9H806.8M793.4 169.3V216.5M796.7 179.0H822.9M809.8 144.3V213.6M828.0 228.5H854.3M841.2 200.0V257.0M795.0 204.0H812.2M803.6 193.3V214.7M784.1 183.8H799.3M791.7 156.4V211.1M833.0 198.0H861.8M847.4 163.3V232.7M840.1 191.0H854.5M847.3 175.3V206.7M790.6 177.4H813.0M801.8 144.9V209.9M828.9 200.8H852.0M840.4 170.8V230.7M781.0 216.1H809.2M795.1 186.6V245.7M828.2 200.6H841.8M835.0 170.9V230.4M795.2 228.1H824.7M810.0 208.2V248.0M801.8 240.5H826.3M814.1 226.2V254.7M783.6 172.8H811.7M797.6 142.7V203.0M784.0 230.3H813.6M798.8 203.8V256.7M804.7 206.6H817.3M811.0 196.3V217.0M838.0 215.2H858.5M848.3 181.9V248.6M802.8 234.1H829.3M816.0 218.8V249.4M797.7 184.9H812.5M805.1 160.2V209.6" stroke="#0000ff" stroke-width="0.85" fill="none"/>
<path d="M725.40 107.00L730.30 115.00L725.40 123.00L720.50 115.00ZM746.70 127.50L751.60 135.50L746.70 143.50L741.80 135.50ZM747.00 130.50L751.90 138.50L747.00 146.50L742.10 138.50ZM744.50 161.60L749.40 169.60L744.50 177.60L739.60 169.60ZM777.80 70.50L782.70 78.50L777.80 86.50L772.90 78.50ZM805.40 84.20L810.30 92.20L805.40 100.20L800.50 92.20ZM764.10 90.50L769.00 98.50L764.10 106.50L759.20 98.50ZM778.70 95.60L783.60 103.60L778.70 111.60L773.80 103.60ZM764.40 110.60L769.30 118.60L764.40 126.60L759.50 118.60ZM771.90 125.70L776.80 133.70L771.90 141.70L767.00 133.70ZM801.30 109.10L806.20 117.10L801.30 125.10L796.40 117.10ZM869.30 88.70L874.20 96.70L869.30 104.70L864.40 96.70ZM854.00 107.00L858.90 115.00L854.00 123.00L849.10 115.00ZM820.30 107.00L825.20 115.00L820.30 123.00L815.40 115.00ZM846.10 128.30L851.00 136.30L846.10 144.30L841.20 136.30ZM891.80 157.50L896.70 165.50L891.80 173.50L886.90 165.50ZM889.10 162.70L894.00 170.70L889.10 178.70L884.20 170.70ZM837.50 105.50L842.40 113.50L837.50 121.50L832.60 113.50ZM772.50 135.20L777.40 143.20L772.50 151.20L767.60 143.20ZM769.80 142.00L774.70 150.00L769.80 158.00L764.90 150.00ZM784.60 157.50L789.50 165.50L784.60 173.50L779.70 165.50ZM769.10 162.70L774.00 170.70L769.10 178.70L764.20 170.70ZM760.50 171.30L765.40 179.30L760.50 187.30L755.60 179.30ZM767.40 183.30L772.30 191.30L767.40 199.30L762.50 191.30ZM790.40 135.20L795.30 143.20L790.40 151.20L785.50 143.20ZM825.00 155.80L829.90 163.80L825.00 171.80L820.10 163.80ZM858.50 172.60L863.40 180.60L858.50 188.60L853.60 180.60ZM866.90 178.10L871.80 186.10L866.90 194.10L862.00 186.10ZM851.50 186.50L856.40 194.50L851.50 202.50L846.60 194.50ZM859.60 171.00L864.50 179.00L859.60 187.00L854.70 179.00ZM879.00 178.80L883.90 186.80L879.00 194.80L874.10 186.80ZM875.10 204.50L880.00 212.50L875.10 220.50L870.20 212.50ZM870.00 211.00L874.90 219.00L870.00 227.00L865.10 219.00ZM855.80 211.00L860.70 219.00L855.80 227.00L850.90 219.00ZM845.50 204.50L850.40 212.50L845.50 220.50L840.60 212.50ZM837.70 231.60L842.60 239.60L837.70 247.60L832.80 239.60ZM867.40 247.10L872.30 255.10L867.40 263.10L862.50 255.10ZM860.90 265.10L865.80 273.10L860.90 281.10L856.00 273.10ZM889.30 163.30L894.20 171.30L889.30 179.30L884.40 171.30ZM763.60 176.80L768.50 184.80L763.60 192.80L758.70 184.80ZM766.50 185.60L771.40 193.60L766.50 201.60L761.60 193.60ZM787.80 191.40L792.70 199.40L787.80 207.40L782.90 199.40ZM792.60 203.00L797.50 211.00L792.60 219.00L787.70 211.00ZM792.60 256.50L797.50 264.50L792.60 272.50L787.70 264.50ZM806.80 265.20L811.70 273.20L806.80 281.20L801.90 273.20ZM826.20 258.20L831.10 266.20L826.20 274.20L821.30 266.20ZM827.20 232.00L832.10 240.00L827.20 248.00L822.30 240.00ZM838.80 232.00L843.70 240.00L838.80 248.00L833.90 240.00ZM786.50 192.00L791.40 200.00L786.50 208.00L781.60 200.00ZM800.00 187.00L804.90 195.00L800.00 203.00L795.10 195.00ZM805.90 197.00L810.80 205.00L805.90 213.00L801.00 205.00ZM809.70 192.00L814.60 200.00L809.70 208.00L804.80 200.00ZM816.50 197.00L821.40 205.00L816.50 213.00L811.60 205.00ZM792.30 204.90L797.20 212.90L792.30 220.90L787.40 212.90ZM744.80 187.00L749.70 195.00L744.80 203.00L739.90 195.00ZM769.40 197.00L774.30 205.00L769.40 213.00L764.50 205.00ZM799.40 222.00L804.30 230.00L799.40 238.00L794.50 230.00ZM809.10 217.00L814.00 225.00L809.10 233.00L804.20 225.00ZM814.90 220.00L819.80 228.00L814.90 236.00L810.00 228.00ZM820.60 115.80L825.50 123.80L820.60 131.80L815.70 123.80ZM845.60 126.10L850.50 134.10L845.60 142.10L840.70 134.10ZM785.30 192.70L790.20 200.70L785.30 208.70L780.40 200.70ZM826.60 233.10L831.50 241.10L826.60 249.10L821.70 241.10ZM838.70 232.20L843.60 240.20L838.70 248.20L833.80 240.20ZM843.80 206.40L848.70 214.40L843.80 222.40L838.90 214.40ZM825.20 142.00L830.10 150.00L825.20 158.00L820.30 150.00ZM765.60 122.00L770.50 130.00L765.60 138.00L760.70 130.00ZM784.30 132.00L789.20 140.00L784.30 148.00L779.40 140.00ZM794.00 127.00L798.90 135.00L794.00 143.00L789.10 135.00ZM802.20 132.00L807.10 140.00L802.20 148.00L797.30 140.00ZM779.60 117.00L784.50 125.00L779.60 133.00L774.70 125.00ZM804.02 124.63L808.92 132.63L804.02 140.63L799.12 132.63ZM818.44 145.47L823.34 153.47L818.44 161.47L813.54 153.47ZM784.55 152.06L789.45 160.06L784.55 168.06L779.65 160.06ZM810.87 190.20L815.77 198.20L810.87 206.20L805.97 198.20ZM824.67 201.93L829.57 209.93L824.67 217.93L819.77 209.93ZM848.39 114.52L853.29 122.52L848.39 130.52L843.49 122.52ZM791.81 121.43L796.71 129.43L791.81 137.43L786.91 129.43ZM794.29 166.42L799.19 174.42L794.29 182.42L789.39 174.42ZM819.25 116.09L824.15 124.09L819.25 132.09L814.35 124.09ZM828.27 151.48L833.17 159.48L828.27 167.48L823.37 159.48ZM812.82 139.08L817.72 147.08L812.82 155.08L807.92 147.08ZM798.60 165.72L803.50 173.72L798.60 181.72L793.70 173.72ZM831.60 137.93L836.50 145.93L831.60 153.93L826.70 145.93ZM810.43 183.44L815.33 191.44L810.43 199.44L805.53 191.44ZM784.67 174.82L789.57 182.82L784.67 190.82L779.77 182.82ZM841.53 140.43L846.43 148.43L841.53 156.43L836.63 148.43ZM821.43 154.25L826.33 162.25L821.43 170.25L816.53 162.25ZM814.24 174.42L819.14 182.42L814.24 190.42L809.34 182.42ZM826.00 206.33L830.90 214.33L826.00 222.33L821.10 214.33ZM808.23 174.86L813.13 182.86L808.23 190.86L803.33 182.86ZM793.43 121.36L798.33 129.36L793.43 137.36L788.53 129.36ZM790.80 134.02L795.70 142.02L790.80 150.02L785.90 142.02ZM787.48 153.57L792.38 161.57L787.48 169.57L782.58 161.57ZM837.71 193.81L842.61 201.81L837.71 209.81L832.81 201.81ZM806.40 195.77L811.30 203.77L806.40 211.77L801.50 203.77ZM793.98 132.50L798.88 140.50L793.98 148.50L789.08 140.50ZM822.06 135.49L826.96 143.49L822.06 151.49L817.16 143.49ZM807.11 164.94L812.01 172.94L807.11 180.94L802.21 172.94ZM817.05 169.91L821.95 177.91L817.05 185.91L812.15 177.91ZM843.17 185.66L848.07 193.66L843.17 201.66L838.27 193.66ZM808.68 148.70L813.58 156.70L808.68 164.70L803.78 156.70ZM786.23 116.53L791.13 124.53L786.23 132.53L781.33 124.53ZM805.12 115.10L810.02 123.10L805.12 131.10L800.22 123.10ZM788.90 145.27L793.80 153.27L788.90 161.27L784.00 153.27ZM823.76 124.41L828.66 132.41L823.76 140.41L818.86 132.41ZM806.76 121.92L811.66 129.92L806.76 137.92L801.86 129.92ZM813.69 156.93L818.59 164.93L813.69 172.93L808.79 164.93ZM805.30 135.68L810.20 143.68L805.30 151.68L800.40 143.68ZM783.57 202.25L788.47 210.25L783.57 218.25L778.67 210.25ZM818.94 112.62L823.84 120.62L818.94 128.62L814.04 120.62ZM840.71 177.53L845.61 185.53L840.71 193.53L835.81 185.53ZM793.36 184.88L798.26 192.88L793.36 200.88L788.46 192.88ZM809.78 170.96L814.68 178.96L809.78 186.96L804.88 178.96ZM841.16 220.52L846.06 228.52L841.16 236.52L836.26 228.52ZM803.60 196.00L808.50 204.00L803.60 212.00L798.70 204.00ZM791.68 175.75L796.58 183.75L791.68 191.75L786.78 183.75ZM847.39 190.01L852.29 198.01L847.39 206.01L842.49 198.01ZM847.30 182.99L852.20 190.99L847.30 198.99L842.40 190.99ZM801.80 169.37L806.70 177.37L801.80 185.37L796.90 177.37ZM840.43 192.76L845.33 200.76L840.43 208.76L835.53 200.76ZM795.09 208.15L799.99 216.15L795.09 224.15L790.19 216.15ZM835.01 192.63L839.91 200.63L835.01 208.63L830.11 200.63ZM809.95 220.07L814.85 228.07L809.95 236.07L805.05 228.07ZM814.08 232.48L818.98 240.48L814.08 248.48L809.18 240.48ZM797.62 164.85L802.52 172.85L797.62 180.85L792.72 172.85ZM798.77 222.25L803.67 230.25L798.77 238.25L793.87 230.25ZM811.02 198.64L815.92 206.64L811.02 214.64L806.12 206.64ZM848.25 207.22L853.15 215.22L848.25 223.22L843.35 215.22ZM816.03 226.10L820.93 234.10L816.03 242.10L811.13 234.10ZM805.11 176.90L810.01 184.90L805.11 192.90L800.21 184.90Z" stroke="#0000ff" stroke-width="1.05" fill="none"/>
<path d="M778.0 121.9H791.0M784.6 112.0V132.0M788.0 120.7H800.0M794.0 110.0V130.0M784.0 217.0H797.0M790.5 205.0V230.0" stroke="#1f921f" stroke-width="0.85" fill="none"/>
<path d="M779.15 116.45h10.9v10.9h-10.9ZM788.55 115.25h10.9v10.9h-10.9ZM785.05 211.55h10.9v10.9h-10.9Z" stroke="#1f921f" stroke-width="1.05" fill="none"/>
<path d="" stroke="#ff0000" stroke-width="0.85" fill="none"/>
<path d="" stroke="#ff0000" stroke-width="1.05" fill="none"/>
<line x1="874.9" y1="255" x2="874.9" y2="327" stroke="#0000ff" stroke-width="1.1"/>
<line x1="875.1" y1="123" x2="875.1" y2="205" stroke="#0000ff" stroke-width="1.1"/>
<line x1="879" y1="146.3" x2="879" y2="200" stroke="#0000ff" stroke-width="1.1"/>
<line x1="892.4" y1="121.9" x2="892.4" y2="170" stroke="#0000ff" stroke-width="1.1"/>
<line x1="859.6" y1="138.6" x2="859.6" y2="190" stroke="#0000ff" stroke-width="1.1"/>
<line x1="863.5" y1="160.5" x2="863.5" y2="200" stroke="#0000ff" stroke-width="1.1"/>
<line x1="794.2" y1="240" x2="794.2" y2="358" stroke="#0000ff" stroke-width="1.1"/>
<line x1="831.5" y1="230" x2="831.5" y2="282" stroke="#0000ff" stroke-width="1.1"/>
<line x1="834.5" y1="230" x2="834.5" y2="290" stroke="#0000ff" stroke-width="1.1"/>
<line x1="820.5" y1="230" x2="820.5" y2="275" stroke="#0000ff" stroke-width="1.1"/>
<line x1="812.5" y1="225" x2="812.5" y2="262" stroke="#0000ff" stroke-width="1.1"/>
<line x1="796.5" y1="112.2" x2="796.5" y2="206.1" stroke="#0000ff" stroke-width="1.1"/>
<line x1="850.5" y1="108.0" x2="850.5" y2="233.9" stroke="#0000ff" stroke-width="1.1"/>
<line x1="823.4" y1="143.8" x2="823.4" y2="230.8" stroke="#0000ff" stroke-width="1.1"/>
<line x1="851.2" y1="117.6" x2="851.2" y2="240.2" stroke="#0000ff" stroke-width="1.1"/>
<line x1="818.5" y1="86.2" x2="818.5" y2="232.4" stroke="#0000ff" stroke-width="1.1"/>
<line x1="790.2" y1="85.3" x2="790.2" y2="262.9" stroke="#0000ff" stroke-width="1.1"/>
<line x1="789.3" y1="115.8" x2="789.3" y2="256.6" stroke="#0000ff" stroke-width="1.1"/>
<line x1="821.2" y1="106.2" x2="821.2" y2="239.1" stroke="#0000ff" stroke-width="1.1"/>
<line x1="821.1" y1="136.0" x2="821.1" y2="204.0" stroke="#0000ff" stroke-width="1.1"/>
<line x1="821.5" y1="101.2" x2="821.5" y2="218.5" stroke="#0000ff" stroke-width="1.1"/>
<line x1="839.1" y1="118.0" x2="839.1" y2="242.7" stroke="#0000ff" stroke-width="1.1"/>
<line x1="838.1" y1="144.3" x2="838.1" y2="232.7" stroke="#0000ff" stroke-width="1.1"/>
<line x1="825.8" y1="117.9" x2="825.8" y2="238.5" stroke="#0000ff" stroke-width="1.1"/>
<line x1="832.5" y1="114.4" x2="832.5" y2="240.3" stroke="#0000ff" stroke-width="1.1"/>
<line x1="814.7" y1="146.2" x2="814.7" y2="254.4" stroke="#0000ff" stroke-width="1.1"/>
<line x1="847.8" y1="146.2" x2="847.8" y2="217.1" stroke="#0000ff" stroke-width="1.1"/>
<line x1="821.4" y1="146.3" x2="821.4" y2="266.4" stroke="#0000ff" stroke-width="1.1"/>
<line x1="786.4" y1="92.9" x2="786.4" y2="232.6" stroke="#0000ff" stroke-width="1.1"/>
<line x1="781.0" y1="100.6" x2="781.0" y2="201.2" stroke="#0000ff" stroke-width="1.1"/>
<line x1="830.6" y1="136.0" x2="830.6" y2="271.2" stroke="#0000ff" stroke-width="1.1"/>
<line x1="787.8" y1="131.5" x2="787.8" y2="251.1" stroke="#0000ff" stroke-width="1.1"/>
<line x1="786.9" y1="142.4" x2="786.9" y2="277.2" stroke="#0000ff" stroke-width="1.1"/>
<line x1="793.2" y1="146.9" x2="793.2" y2="228.9" stroke="#0000ff" stroke-width="1.1"/>
<line x1="815.4" y1="149.3" x2="815.4" y2="265.8" stroke="#0000ff" stroke-width="1.1"/>
<line x1="788.4" y1="113.0" x2="788.4" y2="238.8" stroke="#0000ff" stroke-width="1.1"/>
<line x1="803.1" y1="97.7" x2="803.1" y2="222.1" stroke="#0000ff" stroke-width="1.1"/>
<line x1="834.9" y1="86.3" x2="834.9" y2="242.1" stroke="#0000ff" stroke-width="1.1"/>
<line x1="811.6" y1="86.2" x2="811.6" y2="223.2" stroke="#0000ff" stroke-width="1.1"/>
</g>
<rect x="617.9" y="0.85" width="502.50" height="415.55" fill="none" stroke="#3a3a3a" stroke-width="0.85"/>
<line x1="617.9" y1="340.40" x2="626.9" y2="340.40" stroke="#000" stroke-width="2"/>
<line x1="1120.4" y1="340.40" x2="1111.4" y2="340.40" stroke="#000" stroke-width="2"/>
<line x1="617.9" y1="253.80" x2="626.9" y2="253.80" stroke="#000" stroke-width="2"/>
<line x1="1120.4" y1="253.80" x2="1111.4" y2="253.80" stroke="#000" stroke-width="2"/>
<line x1="617.9" y1="167.20" x2="626.9" y2="167.20" stroke="#000" stroke-width="2"/>
<line x1="1120.4" y1="167.20" x2="1111.4" y2="167.20" stroke="#000" stroke-width="2"/>
<line x1="617.9" y1="80.60" x2="626.9" y2="80.60" stroke="#000" stroke-width="2"/>
<line x1="1120.4" y1="80.60" x2="1111.4" y2="80.60" stroke="#000" stroke-width="2"/>
<line x1="617.9" y1="409.68" x2="623.1999999999999" y2="409.68" stroke="#000" stroke-width="1.7"/>
<line x1="1120.4" y1="409.68" x2="1115.1000000000001" y2="409.68" stroke="#000" stroke-width="1.7"/>
<line x1="617.9" y1="392.36" x2="623.1999999999999" y2="392.36" stroke="#000" stroke-width="1.7"/>
<line x1="1120.4" y1="392.36" x2="1115.1000000000001" y2="392.36" stroke="#000" stroke-width="1.7"/>
<line x1="617.9" y1="375.04" x2="623.1999999999999" y2="375.04" stroke="#000" stroke-width="1.7"/>
<line x1="1120.4" y1="375.04" x2="1115.1000000000001" y2="375.04" stroke="#000" stroke-width="1.7"/>
<line x1="617.9" y1="357.72" x2="623.1999999999999" y2="357.72" stroke="#000" stroke-width="1.7"/>
<line x1="1120.4" y1="357.72" x2="1115.1000000000001" y2="357.72" stroke="#000" stroke-width="1.7"/>
<line x1="617.9" y1="340.40" x2="623.1999999999999" y2="340.40" stroke="#000" stroke-width="1.7"/>
<line x1="1120.4" y1="340.40" x2="1115.1000000000001" y2="340.40" stroke="#000" stroke-width="1.7"/>
<line x1="617.9" y1="323.08" x2="623.1999999999999" y2="323.08" stroke="#000" stroke-width="1.7"/>
<line x1="1120.4" y1="323.08" x2="1115.1000000000001" y2="323.08" stroke="#000" stroke-width="1.7"/>
<line x1="617.9" y1="305.76" x2="623.1999999999999" y2="305.76" stroke="#000" stroke-width="1.7"/>
<line x1="1120.4" y1="305.76" x2="1115.1000000000001" y2="305.76" stroke="#000" stroke-width="1.7"/>
<line x1="617.9" y1="288.44" x2="623.1999999999999" y2="288.44" stroke="#000" stroke-width="1.7"/>
<line x1="1120.4" y1="288.44" x2="1115.1000000000001" y2="288.44" stroke="#000" stroke-width="1.7"/>
<line x1="617.9" y1="271.12" x2="623.1999999999999" y2="271.12" stroke="#000" stroke-width="1.7"/>
<line x1="1120.4" y1="271.12" x2="1115.1000000000001" y2="271.12" stroke="#000" stroke-width="1.7"/>
<line x1="617.9" y1="253.80" x2="623.1999999999999" y2="253.80" stroke="#000" stroke-width="1.7"/>
<line x1="1120.4" y1="253.80" x2="1115.1000000000001" y2="253.80" stroke="#000" stroke-width="1.7"/>
<line x1="617.9" y1="236.48" x2="623.1999999999999" y2="236.48" stroke="#000" stroke-width="1.7"/>
<line x1="1120.4" y1="236.48" x2="1115.1000000000001" y2="236.48" stroke="#000" stroke-width="1.7"/>
<line x1="617.9" y1="219.16" x2="623.1999999999999" y2="219.16" stroke="#000" stroke-width="1.7"/>
<line x1="1120.4" y1="219.16" x2="1115.1000000000001" y2="219.16" stroke="#000" stroke-width="1.7"/>
<line x1="617.9" y1="201.84" x2="623.1999999999999" y2="201.84" stroke="#000" stroke-width="1.7"/>
<line x1="1120.4" y1="201.84" x2="1115.1000000000001" y2="201.84" stroke="#000" stroke-width="1.7"/>
<line x1="617.9" y1="184.52" x2="623.1999999999999" y2="184.52" stroke="#000" stroke-width="1.7"/>
<line x1="1120.4" y1="184.52" x2="1115.1000000000001" y2="184.52" stroke="#000" stroke-width="1.7"/>
<line x1="617.9" y1="167.20" x2="623.1999999999999" y2="167.20" stroke="#000" stroke-width="1.7"/>
<line x1="1120.4" y1="167.20" x2="1115.1000000000001" y2="167.20" stroke="#000" stroke-width="1.7"/>
<line x1="617.9" y1="149.88" x2="623.1999999999999" y2="149.88" stroke="#000" stroke-width="1.7"/>
<line x1="1120.4" y1="149.88" x2="1115.1000000000001" y2="149.88" stroke="#000" stroke-width="1.7"/>
<line x1="617.9" y1="132.56" x2="623.1999999999999" y2="132.56" stroke="#000" stroke-width="1.7"/>
<line x1="1120.4" y1="132.56" x2="1115.1000000000001" y2="132.56" stroke="#000" stroke-width="1.7"/>
<line x1="617.9" y1="115.24" x2="623.1999999999999" y2="115.24" stroke="#000" stroke-width="1.7"/>
<line x1="1120.4" y1="115.24" x2="1115.1000000000001" y2="115.24" stroke="#000" stroke-width="1.7"/>
<line x1="617.9" y1="97.92" x2="623.1999999999999" y2="97.92" stroke="#000" stroke-width="1.7"/>
<line x1="1120.4" y1="97.92" x2="1115.1000000000001" y2="97.92" stroke="#000" stroke-width="1.7"/>
<line x1="617.9" y1="80.60" x2="623.1999999999999" y2="80.60" stroke="#000" stroke-width="1.7"/>
<line x1="1120.4" y1="80.60" x2="1115.1000000000001" y2="80.60" stroke="#000" stroke-width="1.7"/>
<line x1="617.9" y1="63.28" x2="623.1999999999999" y2="63.28" stroke="#000" stroke-width="1.7"/>
<line x1="1120.4" y1="63.28" x2="1115.1000000000001" y2="63.28" stroke="#000" stroke-width="1.7"/>
<line x1="617.9" y1="45.96" x2="623.1999999999999" y2="45.96" stroke="#000" stroke-width="1.7"/>
<line x1="1120.4" y1="45.96" x2="1115.1000000000001" y2="45.96" stroke="#000" stroke-width="1.7"/>
<line x1="617.9" y1="28.64" x2="623.1999999999999" y2="28.64" stroke="#000" stroke-width="1.7"/>
<line x1="1120.4" y1="28.64" x2="1115.1000000000001" y2="28.64" stroke="#000" stroke-width="1.7"/>
<line x1="617.9" y1="11.32" x2="623.1999999999999" y2="11.32" stroke="#000" stroke-width="1.7"/>
<line x1="1120.4" y1="11.32" x2="1115.1000000000001" y2="11.32" stroke="#000" stroke-width="1.7"/>
<text x="611" y="347.20" text-anchor="end" font-size="19.5">1.2</text>
<text x="611" y="260.60" text-anchor="end" font-size="19.5">1.4</text>
<text x="611" y="174.00" text-anchor="end" font-size="19.5">1.6</text>
<text x="611" y="87.40" text-anchor="end" font-size="19.5">1.8</text>
<line x1="624.20" y1="416.4" x2="624.20" y2="411.09999999999997" stroke="#000" stroke-width="1.7"/>
<line x1="624.20" y1="0.85" x2="624.20" y2="6.1499999999999995" stroke="#000" stroke-width="1.7"/>
<line x1="656.90" y1="416.4" x2="656.90" y2="411.09999999999997" stroke="#000" stroke-width="1.7"/>
<line x1="656.90" y1="0.85" x2="656.90" y2="6.1499999999999995" stroke="#000" stroke-width="1.7"/>
<line x1="683.63" y1="416.4" x2="683.63" y2="411.09999999999997" stroke="#000" stroke-width="1.7"/>
<line x1="683.63" y1="0.85" x2="683.63" y2="6.1499999999999995" stroke="#000" stroke-width="1.7"/>
<line x1="706.22" y1="416.4" x2="706.22" y2="411.09999999999997" stroke="#000" stroke-width="1.7"/>
<line x1="706.22" y1="0.85" x2="706.22" y2="6.1499999999999995" stroke="#000" stroke-width="1.7"/>
<line x1="725.79" y1="416.4" x2="725.79" y2="411.09999999999997" stroke="#000" stroke-width="1.7"/>
<line x1="725.79" y1="0.85" x2="725.79" y2="6.1499999999999995" stroke="#000" stroke-width="1.7"/>
<line x1="743.06" y1="416.4" x2="743.06" y2="411.09999999999997" stroke="#000" stroke-width="1.7"/>
<line x1="743.06" y1="0.85" x2="743.06" y2="6.1499999999999995" stroke="#000" stroke-width="1.7"/>
<line x1="758.50" y1="416.4" x2="758.50" y2="407.9" stroke="#000" stroke-width="2"/>
<line x1="758.50" y1="0.85" x2="758.50" y2="9.35" stroke="#000" stroke-width="2"/>
<line x1="860.10" y1="416.4" x2="860.10" y2="411.09999999999997" stroke="#000" stroke-width="1.7"/>
<line x1="860.10" y1="0.85" x2="860.10" y2="6.1499999999999995" stroke="#000" stroke-width="1.7"/>
<line x1="919.53" y1="416.4" x2="919.53" y2="411.09999999999997" stroke="#000" stroke-width="1.7"/>
<line x1="919.53" y1="0.85" x2="919.53" y2="6.1499999999999995" stroke="#000" stroke-width="1.7"/>
<line x1="961.70" y1="416.4" x2="961.70" y2="411.09999999999997" stroke="#000" stroke-width="1.7"/>
<line x1="961.70" y1="0.85" x2="961.70" y2="6.1499999999999995" stroke="#000" stroke-width="1.7"/>
<line x1="994.40" y1="416.4" x2="994.40" y2="411.09999999999997" stroke="#000" stroke-width="1.7"/>
<line x1="994.40" y1="0.85" x2="994.40" y2="6.1499999999999995" stroke="#000" stroke-width="1.7"/>
<line x1="1021.13" y1="416.4" x2="1021.13" y2="411.09999999999997" stroke="#000" stroke-width="1.7"/>
<line x1="1021.13" y1="0.85" x2="1021.13" y2="6.1499999999999995" stroke="#000" stroke-width="1.7"/>
<line x1="1043.72" y1="416.4" x2="1043.72" y2="411.09999999999997" stroke="#000" stroke-width="1.7"/>
<line x1="1043.72" y1="0.85" x2="1043.72" y2="6.1499999999999995" stroke="#000" stroke-width="1.7"/>
<line x1="1063.29" y1="416.4" x2="1063.29" y2="411.09999999999997" stroke="#000" stroke-width="1.7"/>
<line x1="1063.29" y1="0.85" x2="1063.29" y2="6.1499999999999995" stroke="#000" stroke-width="1.7"/>
<line x1="1080.56" y1="416.4" x2="1080.56" y2="411.09999999999997" stroke="#000" stroke-width="1.7"/>
<line x1="1080.56" y1="0.85" x2="1080.56" y2="6.1499999999999995" stroke="#000" stroke-width="1.7"/>
<line x1="1096.00" y1="416.4" x2="1096.00" y2="407.9" stroke="#000" stroke-width="2"/>
<line x1="1096.00" y1="0.85" x2="1096.00" y2="9.35" stroke="#000" stroke-width="2"/>
<text x="736.90" y="437" font-size="19.5">10</text>
<rect x="756.70" y="426.10" width="8.2" height="1.1" fill="#000"/>
<text x="767.30" y="430.50" font-size="15" letter-spacing="-1">11</text>
<text x="1074.40" y="437" font-size="19.5">10</text>
<rect x="1094.20" y="426.10" width="8.2" height="1.1" fill="#000"/>
<text x="1104.80" y="430.50" font-size="15" letter-spacing="-1">10</text>
<text x="644" y="37" font-size="26">(b)</text>
<text x="771.7" y="460" font-size="18.6">X-ray flux (erg cm</text>
<rect x="912.90" y="449.00" width="8.2" height="1.1" fill="#000"/>
<text x="922.80" y="452.80" font-size="16">2</text>
<text x="934.40" y="460.00" font-size="18.6">s</text>
<rect x="942.80" y="449.00" width="8.2" height="1.1" fill="#000"/>
<text x="952.80" y="452.80" font-size="16">1</text>
<text x="959.10" y="460.00" font-size="18.6">)</text>
<text transform="translate(580.2,208.2) rotate(-90)" text-anchor="middle" font-size="18.6">Photon index</text>
<path d="M399.0 19.5H414.4M406.7 11.8V27.2" stroke="#ff0000" stroke-width="0.85" fill="none"/>
<path d="M401.10 19.50a5.6 5.6 0 1 0 11.2 0a5.6 5.6 0 1 0 -11.2 0Z" stroke="#ff0000" stroke-width="1.05" fill="none"/>
<text transform="translate(434.00,25.00) scale(1,1.1)" font-size="14.85">High state</text>
<path d="M399.0 40.8H414.4M406.7 33.1V48.5" stroke="#1f921f" stroke-width="0.85" fill="none"/>
<path d="M401.25 35.35h10.9v10.9h-10.9Z" stroke="#1f921f" stroke-width="1.05" fill="none"/>
<text transform="translate(434.00,46.30) scale(1,1.1)" font-size="14.85">Intermediate state</text>
<path d="M399.0 62.1H414.4M406.7 54.4V69.8" stroke="#0000ff" stroke-width="0.85" fill="none"/>
<path d="M406.70 54.10L411.60 62.10L406.70 70.10L401.80 62.10Z" stroke="#0000ff" stroke-width="1.05" fill="none"/>
<text transform="translate(434.00,67.60) scale(1,1.1)" font-size="14.85">Low state</text>
<path d="M965.5 19.8H980.9M973.2 12.1V27.5" stroke="#ff0000" stroke-width="0.85" fill="none"/>
<path d="M967.60 19.80a5.6 5.6 0 1 0 11.2 0a5.6 5.6 0 1 0 -11.2 0Z" stroke="#ff0000" stroke-width="1.05" fill="none"/>
<text transform="translate(1000.50,25.30) scale(1,1.1)" font-size="14.85">High state</text>
<path d="M965.5 41.1H980.9M973.2 33.4V48.8" stroke="#1f921f" stroke-width="0.85" fill="none"/>
<path d="M967.75 35.65h10.9v10.9h-10.9Z" stroke="#1f921f" stroke-width="1.05" fill="none"/>
<text transform="translate(1000.50,46.60) scale(1,1.1)" font-size="14.85">Intermediate state</text>
<path d="M965.5 62.4H980.9M973.2 54.7V70.1" stroke="#0000ff" stroke-width="0.85" fill="none"/>
<path d="M973.20 54.40L978.10 62.40L973.20 70.40L968.30 62.40Z" stroke="#0000ff" stroke-width="1.05" fill="none"/>
<text transform="translate(1000.50,67.90) scale(1,1.1)" font-size="14.85">Low state</text>
</svg></body></html>
